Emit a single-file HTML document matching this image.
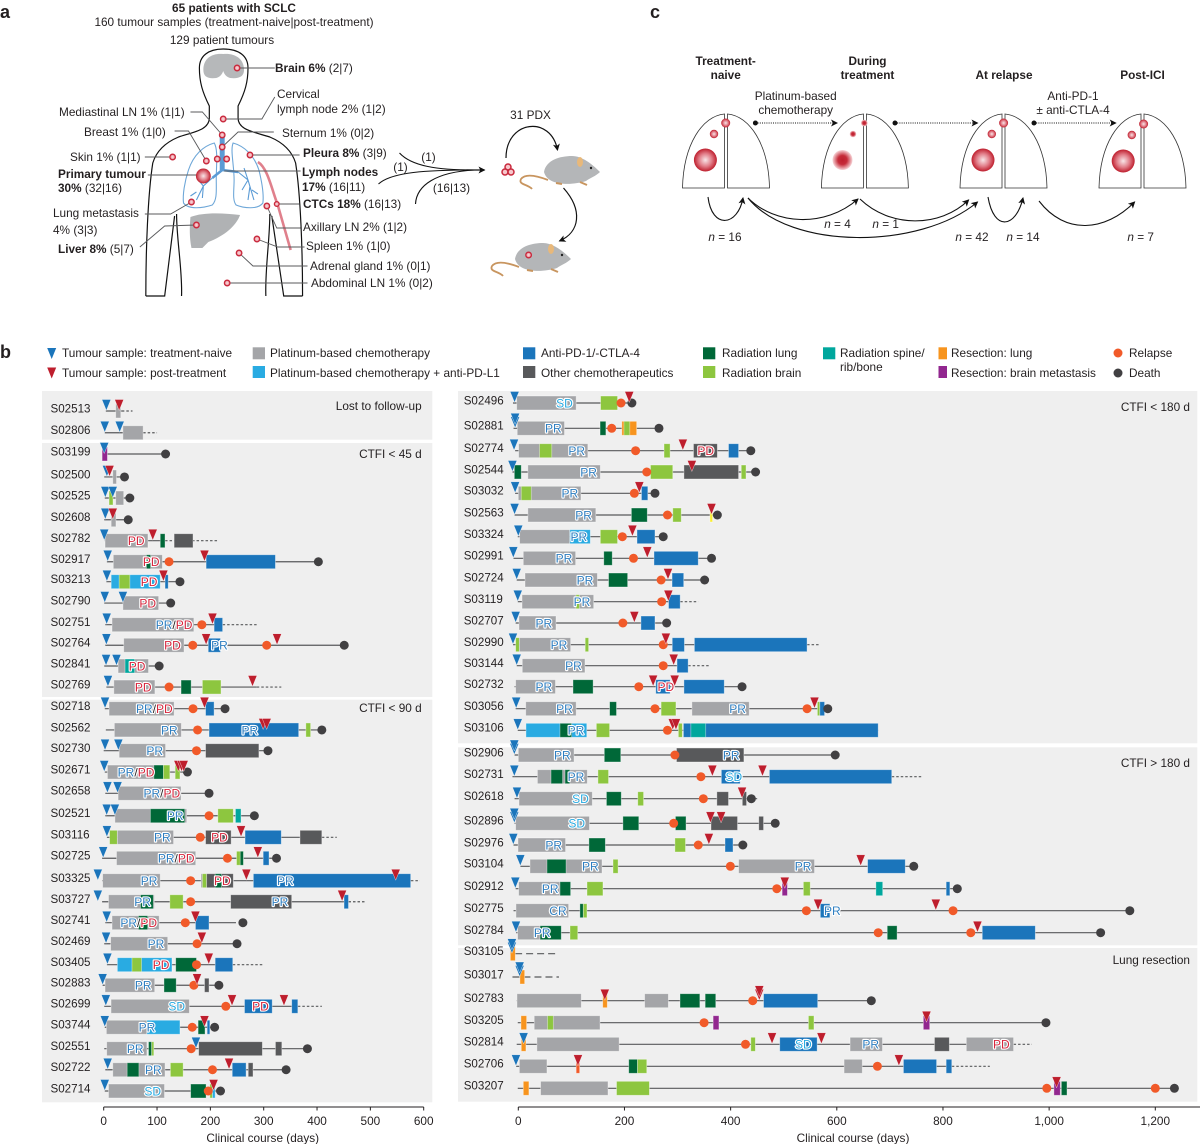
<!DOCTYPE html>
<html lang="en">
<head>
<meta charset="utf-8">
<title>SCLC patient cohort and clinical course</title>
<style>
html,body{margin:0;padding:0;background:#fff;}
body{width:1200px;height:1144px;overflow:hidden;}
svg{display:block;font-family:"Liberation Sans",sans-serif;font-size:11.8px;fill:#231f20;}
.b{font-weight:700;}
.lead{fill:none;stroke:#58595b;stroke-width:.9;}
.node{fill:url(#nodeGrad);stroke:#c8283c;stroke-width:1.3;}
.tag{font-size:18px;font-weight:700;}
.arc{fill:none;stroke:#111;stroke-width:1.1;marker-end:url(#arrow);}
.dot{fill:none;stroke:#111;stroke-width:1.1;stroke-dasharray:1 1.2;marker-end:url(#arrow);}
</style>
</head>
<body>
<svg id="fig" xmlns="http://www.w3.org/2000/svg" width="1200" height="1144" viewBox="0 0 1200 1144">
<defs>
<radialGradient id="nodeGrad"><stop offset="0" stop-color="#fbe3e5"/><stop offset="1" stop-color="#e8808c"/></radialGradient>
<radialGradient id="tumour"><stop offset="0" stop-color="#f8e6e8"/><stop offset=".55" stop-color="#e27f8a"/><stop offset="1" stop-color="#be1e2d"/></radialGradient>
<radialGradient id="shrunk"><stop offset="0" stop-color="#be1e2d"/><stop offset=".45" stop-color="#c62c3a"/><stop offset="1" stop-color="#f7d5d8"/></radialGradient>
<marker id="arrow" markerWidth="8" markerHeight="8" refX="6" refY="3.5" orient="auto" markerUnits="userSpaceOnUse"><path d="M0,0 L7,3.5 L0,7 L1.8,3.5 Z" fill="#111"/></marker>
<g id="lungs">
<path d="M42,0 C20,2 1,30 0,74 H42 Z" fill="#fff" stroke="#333" stroke-width=".8"/>
<path d="M45,0 C67,2 86,30 87,74 H45 Z" fill="#fff" stroke="#333" stroke-width=".8"/>
</g>
</defs>

<!-- PANEL A -->
<g>
<text class="tag" x="0" y="18">a</text>
<text class="b" x="234" y="12" text-anchor="middle">65 patients with SCLC</text>
<text x="234" y="26" text-anchor="middle">160 tumour samples (treatment-naive|post-treatment)</text>
<text x="222" y="44" text-anchor="middle">129 patient tumours</text>

<g transform="scale(.992,1)">
<g fill="none" stroke="#111" stroke-width="1.2">
<path d="M147,296 C147,250 149,195 154,163 C158,150 168,142 180,137 C195,132 211,130 211,118 L211,106 C204,92 201,82 201,68 C201,56 210,49 225,49 C241,49 250,56 250,68 C250,82 247,92 240,106 L240,118 C240,130 256,132 272,137 C284,142 294,150 298,163 C303,195 305,250 305,296"/>
<path d="M147,296 H166 L176,216 M305,296 H286 L274,216 M178,214 C178,240 184,270 183,296 M272,214 C272,240 267,270 268,296"/>
</g>
<path d="M205,70 C205,58 214,53 225,54 C236,53 246,58 246,70 C246,77 240,79 232,78 C228,77 226,74 225,71 C224,74 222,77 218,78 C210,79 205,77 205,70 Z" fill="#b6b8ba"/>
<path d="M192,217 C205,212 225,213 242,215 C238,226 226,236 210,242 L204,248 L193,248 C191,238 191,228 192,217 Z" fill="#b0b2b4"/>
<g fill="none" stroke="#6ea7d8" stroke-width="1.1">
<path d="M216,143 C205,146 195,155 190,170 C186,182 184,195 185,203 C190,210 205,208 214,205 C219,200 218,190 218,180 C218,165 220,150 216,143 Z"/>
<path d="M235,143 C246,146 256,155 261,170 C264,182 266,195 265,203 C260,210 245,208 238,205 C234,200 236,190 236,180 C236,165 232,150 235,143 Z"/>
<path d="M224,133 V170" stroke="#5b9bd5" stroke-width="5"/>
<path d="M224,170 L214,178 M224,170 L240,172" stroke="#5b9bd5" stroke-width="2.5"/>
<path d="M214,178 L205,186 L198,200 M205,186 L200,180 M205,186 L204,198 M198,192 L192,196 M240,172 L250,180 L256,200 M250,180 L246,168 M250,180 L244,190 M254,190 L260,194 M252,186 L250,200" stroke="#5b9bd5"/>
</g>
<path d="M260,162 C270,168 274,190 280,205 L293,250" fill="none" stroke="#e0808c" stroke-width="2.6"/>
<g>
<path class="lead" d="M239,68 H277"/>
<path class="lead" d="M225,119 H264 L277,97"/>
<path class="lead" d="M192,112 H204 L224,135"/>
<path class="lead" d="M176,131 H190 L208,161"/>
<path class="lead" d="M276,132 H240 L224,147"/>
<path class="lead" d="M146,157 H174"/>
<path class="lead" d="M252,155 H302"/>
<path class="lead" d="M149,175 H205"/>
<path class="lead" d="M226,171 H303"/>
<path class="lead" d="M279,204 H302"/>
<path class="lead" d="M146,214 H172 L193,202"/>
<path class="lead" d="M141,247 L166,226 L198,225"/>
<path class="lead" d="M269,206 L279,228 H303"/>
<path class="lead" d="M259,239 L280,247 H307"/>
<path class="lead" d="M241,253 L255,266 H310"/>
<path class="lead" d="M229,283 H310"/>
</g>
<g>
<circle class="node" cx="239" cy="68" r="2.8"/><circle class="node" cx="225" cy="119" r="2.8"/>
<circle class="node" cx="224" cy="135" r="2.8"/><circle class="node" cx="224" cy="147" r="2.8"/>
<circle class="node" cx="208" cy="161" r="2.8"/><circle class="node" cx="219" cy="159" r="2.8"/>
<circle class="node" cx="228.500" cy="159" r="2.8"/><circle class="node" cx="174" cy="157" r="2.8"/>
<circle class="node" cx="252" cy="155" r="2.8"/><circle cx="205" cy="176" r="7.5" fill="url(#tumour)"/>
<circle class="node" cx="193" cy="202" r="2.8"/><circle class="node" cx="198" cy="225" r="2.8"/>
<circle class="node" cx="279" cy="204" r="2.4"/><circle class="node" cx="269" cy="206" r="2.8"/>
<circle class="node" cx="259" cy="239" r="2.8"/><circle class="node" cx="241" cy="253" r="2.8"/>
<circle class="node" cx="229" cy="283" r="2.8"/>
</g>
</g>
<text x="275" y="72"><tspan class="b">Brain 6%</tspan> (2|7)</text>
<text x="277" y="98">Cervical</text>
<text x="277" y="113">lymph node 2% (1|2)</text>
<text x="59" y="116">Mediastinal LN 1% (1|1)</text>
<text x="84" y="136">Breast 1% (1|0)</text>
<text x="282" y="137">Sternum 1% (0|2)</text>
<text x="70" y="161">Skin 1% (1|1)</text>
<text x="303" y="157"><tspan class="b">Pleura 8%</tspan> (3|9)</text>
<text x="58" y="178" class="b">Primary tumour</text>
<text x="58" y="192"><tspan class="b">30%</tspan> (32|16)</text>
<text x="302" y="176" class="b">Lymph nodes</text>
<text x="302" y="191"><tspan class="b">17%</tspan> (16|11)</text>
<text x="303" y="208"><tspan class="b">CTCs 18%</tspan> (16|13)</text>
<text x="53" y="217">Lung metastasis</text>
<text x="53" y="234">4% (3|3)</text>
<text x="303" y="231">Axillary LN 2% (1|2)</text>
<text x="58" y="253"><tspan class="b">Liver 8%</tspan> (5|7)</text>
<text x="306" y="250">Spleen 1% (1|0)</text>
<text x="310" y="270">Adrenal gland 1% (0|1)</text>
<text x="311" y="287">Abdominal LN 1% (0|2)</text>

<g transform="translate(-3.5,0)">
<path d="M403,153 C415,166 440,170 478,170" fill="none" stroke="#111" stroke-width="1.1"/>
<path d="M382,184 C395,172 430,170 478,170" fill="none" stroke="#111" stroke-width="1.1"/>
<path d="M419,204 C420,185 440,172 478,170" fill="none" stroke="#111" stroke-width="1.1"/>
<path d="M470,170 H488" fill="none" stroke="#111" stroke-width="1.3" marker-end="url(#arrow)"/>
<text x="432" y="161" text-anchor="middle">(1)</text>
<text x="404" y="171" text-anchor="middle">(1)</text>
<text x="455" y="192" text-anchor="middle">(16|13)</text>
<text x="534" y="119" text-anchor="middle">31 PDX</text>
</g>
<g>
<circle cx="508" cy="167" r="3" fill="#f7c7cc" stroke="#c8283c" stroke-width="1.5"/>
<circle cx="505" cy="172" r="3" fill="#f7c7cc" stroke="#c8283c" stroke-width="1.5"/>
<circle cx="511" cy="172" r="3" fill="#f7c7cc" stroke="#c8283c" stroke-width="1.5"/>
<path d="M506,158 C506,120 551,115 557.500,150" fill="none" stroke="#111" stroke-width="1.2" marker-end="url(#arrow)"/>
<path d="M563.500,188 C583,210 580,232 559.500,241" fill="none" stroke="#111" stroke-width="1.2" marker-end="url(#arrow)"/>
</g>
<g>
<path d="M548,180 C535,175 525,174 521,179 C518,185 528,184 532,189" fill="none" stroke="#c8955f" stroke-width="1.8"/>
<path d="M544,172 C546,160 560,156 572,156 C582,156 592,164 600,172 C596,176 590,178 586,181 C574,185 548,187 544,172 Z" fill="#b4b6b8"/>
<ellipse cx="580" cy="162" rx="3" ry="5" fill="#e8b87a"/>
<circle cx="591" cy="168" r="1.2" fill="#222"/>
<path d="M556,183 L562,184 M580,182 L587,185" stroke="#c8955f" stroke-width="2"/>
</g>
<g transform="translate(-29,87)">
<path d="M548,180 C535,175 525,174 521,179 C518,185 528,184 532,189" fill="none" stroke="#c8955f" stroke-width="1.8"/>
<path d="M544,172 C546,160 560,156 572,156 C582,156 592,164 600,172 C596,176 590,178 586,181 C574,185 548,187 544,172 Z" fill="#b4b6b8"/>
<ellipse cx="580" cy="162" rx="3" ry="5" fill="#e8b87a"/>
<circle cx="591" cy="168" r="1.2" fill="#222"/>
<path d="M556,183 L562,184 M580,182 L587,185" stroke="#c8955f" stroke-width="2"/>
<circle class="node" cx="557.600" cy="168" r="2.8"/>
</g>
</g>

<!-- PANEL C -->
<g>
<text class="tag" x="650" y="18">c</text>
<text class="b" x="725.700" y="65" text-anchor="middle">Treatment-</text>
<text class="b" x="725.700" y="79" text-anchor="middle">naive</text>
<text class="b" x="867.500" y="65" text-anchor="middle">During</text>
<text class="b" x="867.500" y="79" text-anchor="middle">treatment</text>
<text class="b" x="1004" y="79" text-anchor="middle">At relapse</text>
<text class="b" x="1142.500" y="79" text-anchor="middle">Post-ICI</text>
<text x="795.700" y="100" text-anchor="middle">Platinum-based</text>
<text x="795.700" y="114" text-anchor="middle">chemotherapy</text>
<text x="1073" y="100" text-anchor="middle">Anti-PD-1</text>
<text x="1073" y="114" text-anchor="middle">± anti-CTLA-4</text>
<use href="#lungs" x="682.500" y="114"/>
<use href="#lungs" x="821.400" y="114"/>
<use href="#lungs" x="960" y="114"/>
<use href="#lungs" x="1099" y="114"/>
<g>
<circle cx="705.400" cy="160" r="11.500" fill="url(#tumour)"/><circle cx="714" cy="134" r="4.200" fill="url(#tumour)"/><circle cx="725.700" cy="123" r="4.500" fill="url(#tumour)"/>
<circle cx="842.500" cy="160" r="10" fill="url(#shrunk)"/><circle cx="853" cy="134" r="3.300" fill="url(#shrunk)"/><circle cx="864.300" cy="123" r="3.300" fill="url(#shrunk)"/>
<circle cx="983" cy="160" r="11.500" fill="url(#tumour)"/><circle cx="991.800" cy="134" r="4.200" fill="url(#tumour)"/><circle cx="1003.600" cy="123" r="4.500" fill="url(#tumour)"/>
<circle cx="1123.200" cy="161" r="11.500" fill="url(#tumour)"/><circle cx="1131.800" cy="135" r="4.200" fill="url(#tumour)"/><circle cx="1143.600" cy="124" r="4.500" fill="url(#tumour)"/>
</g>
<g>
<circle cx="755.400" cy="123" r="2.500" fill="#111"/><path class="dot" d="M755.400,123 H837"/>
<circle cx="895" cy="123" r="2.500" fill="#111"/><path class="dot" d="M895,123 H977.500"/>
<circle cx="1034" cy="123" r="2.500" fill="#111"/><path class="dot" d="M1034,123 H1115.700"/>
</g>
<g>
<path class="arc" d="M708,197 C712,230 738,226 743,198"/>
<path class="arc" d="M748,198 C775,225 825,228 858,199"/>
<path class="arc" d="M748,198 C790,250 920,250 977.500,202"/>
<path class="arc" d="M860,199 C890,228 940,228 968.600,200"/>
<path class="arc" d="M988,197 C994,232 1016,228 1023,198"/>
<path class="arc" d="M1039,201 C1065,235 1105,232 1134.600,202"/>
</g>
<g font-style="italic">
<text x="725" y="241" text-anchor="middle"><tspan font-style="italic">n</tspan><tspan font-style="normal"> = 16</tspan></text>
<text x="837.500" y="228" text-anchor="middle"><tspan font-style="italic">n</tspan><tspan font-style="normal"> = 4</tspan></text>
<text x="885.700" y="228" text-anchor="middle"><tspan font-style="italic">n</tspan><tspan font-style="normal"> = 1</tspan></text>
<text x="972" y="241" text-anchor="middle"><tspan font-style="italic">n</tspan><tspan font-style="normal"> = 42</tspan></text>
<text x="1023" y="241" text-anchor="middle"><tspan font-style="italic">n</tspan><tspan font-style="normal"> = 14</tspan></text>
<text x="1140.700" y="241" text-anchor="middle"><tspan font-style="italic">n</tspan><tspan font-style="normal"> = 7</tspan></text>
</g>
</g>

<!-- PANEL B LEGEND -->
<g>
<text class="tag" x="0" y="358">b</text>
<path d="M47.200,348 h9 l-4.500,11 z" fill="#1b75bb"/>
<text x="62" y="357">Tumour sample: treatment-naive</text>
<path d="M47.200,367.500 h9 l-4.500,11 z" fill="#be1e2d"/>
<text x="62" y="377">Tumour sample: post-treatment</text>
<rect x="252.700" y="347.300" width="12.300" height="12" fill="#a4a5a8"/>
<text x="270" y="357">Platinum-based chemotherapy</text>
<rect x="252.700" y="366" width="12.300" height="12" fill="#29abe2"/>
<text x="270" y="377">Platinum-based chemotherapy + anti-PD-L1</text>
<rect x="523" y="347.300" width="12.300" height="12" fill="#1b75bb"/>
<text x="541" y="357">Anti-PD-1/-CTLA-4</text>
<rect x="523" y="366" width="12.300" height="12" fill="#58595b"/>
<text x="541" y="377">Other chemotherapeutics</text>
<rect x="703" y="347.300" width="12.300" height="12" fill="#006838"/>
<text x="722" y="357">Radiation lung</text>
<rect x="703" y="366" width="12.300" height="12" fill="#8dc63f"/>
<text x="722" y="377">Radiation brain</text>
<rect x="823" y="347.300" width="12.300" height="12" fill="#00a79d"/>
<text x="840" y="357">Radiation spine/</text>
<text x="840" y="371">rib/bone</text>
<rect x="938.500" y="347.300" width="8.500" height="12" fill="#f7941e"/>
<text x="951" y="357">Resection: lung</text>
<rect x="938.500" y="366" width="8.500" height="12" fill="#92278f"/>
<text x="951" y="377">Resection: brain metastasis</text>
<circle cx="1118" cy="353" r="4.500" fill="#f15a29"/>
<text x="1129" y="357">Relapse</text>
<circle cx="1118" cy="373" r="4.500" fill="#414042"/>
<text x="1129" y="377">Death</text>
</g>
<g id="chart"></g>
</svg>

<script>
// ---------- DATA: left chart (values in days) ----------
const leftPatients = ['S02513','S02806','S03199','S02500','S02525','S02608','S02782','S02917','S03213','S02790','S02751','S02764','S02841','S02769','S02718','S02562','S02730','S02671','S02658','S02521','S03116','S02725','S03325','S03727','S02741','S02469','S03405','S02883','S02699','S03744','S02551','S02722','S02714'];
const leftLines = [[4,34,54],[2,74,100],[1,116],[1,39],[2,49],[1,46],[2,115,215],[6,402],[5,143],[1,126],[3,223,288],[3,451],[1,104],[5,287,333],[2,228],[4,409],[0,308],[2,157],[3,197],[3,282],[6,409,437],[-3,324],[-3,576,593],[-3,459,492],[3,248],[1,250],[6,242,299],[-2,216],[1,364,409],[2,208],[1,382],[3,342],[2,219]];
const leftBars = [
[['P',22.5,32]],[['P',36,74]],[['M',-3,7]],[['P',17,24]],[['B',10,17.5],['P',22.5,37.5]],[['P',14,23]],
[['P',2.5,83],['L',106,115],['O',132,167.5]],
[['P',18,110],['L',80,88],['A',192,322]],
[['C',14,106],['B',29,49],['A',115,121]],
[['P',36,103]],
[['P',15.6,169],['A',207,223]],
[['P',37.5,150.6],['A',196,219]],
[['P',27,84],['S',40,58]],
[['P',19,96],['L',145,164],['B',185,220]],
[['P',10,132],['A',191,207]],
[['P',20,145.6],['A',197.5,365.6],['B',379,388]],
[['P',29,116],['O',191,291]],
[['P',7,112],['L',94,112],['B',112,124],['B',134,143]],
[['P',27,145]],
[['P',21,155.6],['L',87.5,152],['B',214,243],['S',247,257.5]],
[['B',11,25.6],['P',25.6,131],['O',191,239],['A',265,333],['O',368,409]],
[['P',24,172.5],['B',249,262],['L',256,262],['A',299,310]],
[['P',-2,106],['P',182.5,243],['B',185,193],['O',193,243],['L',209,221],['A',280.6,575.6]],
[['P',9,95],['L',69,93],['B',124,149],['O',238,352.5],['A',450.6,459]],
[['P',15.6,104],['L',65,82.5],['A',172,197.5]],
[['P',13,120]],
[['C',25.6,128],['B',53,71],['L',135,174],['A',209,242]],
[['P',2.5,95.6],['L',113,136],['O',189,197.5]],
[['P',13.75,160.6],['A',264,316],['A',352.5,364]],
[['P',5,81],['C',81,143],['L',177,190],['A',194,199]],
[['P',5.6,81],['L',84,90],['B',90,94],['O',178,297.5],['O',322,334]],
[['P',17,115],['L',44,66],['B',125,149],['A',241,267],['O',271,280]],
[['P',9,114],['L',163,192],['B',199,204],['C',204,209]]
];
const leftResponses = [[],[],[],[],[],[],[['PD',61]],[['PD',89]],[['PD',85]],[['PD',82.5]],[['PR/PD',132]],[['PD',129],['PR',217]],[['PD',62.5]],[['PD',74]],[['PR/PD',95]],[['PR',123],['PR',274]],[['PR',95.6]],[['PR/PD',60.6]],[['PR/PD',109]],[['PR',134]],[['PR',110],['PD',217]],[['PR/PD',136]],[['PR',85],['PD',222.5],['PR',340.6]],[['PR',73],['PR',330.6]],[['PR/PD',65.6]],[['PR',98]],[['PD',107.5]],[['PR',74]],[['SD',137],['PD',294]],[['PR',81]],[['PR',59]],[['PR',93]],[['SD',92]]];
const leftNaive = [[5],[2,30],[1],[6],[3,17],[3],[1],[7.5],[6],[2,36],[5.6],[5],[4.4,24],[8],[2.5],[],[2.5,27.5],[1],[7,26],[5.6,21],[6],[-1],[-11],[-11],[5.6],[4.4],[7],[-2],[4],[2],[173],[7.5],[2]];
const leftPost = [[29],[],[],[11],[],[17],[92],[189],[112],[],[204],[192,325],[],[279],[189],[299,305.6],[],[140,146,150],[],[],[257.5],[289],[267.5,547.5],[447],[172],[184],[197],[175],[240.6,338],[189],[],[235],[206]];
const leftRelapse = [[],[],[],[],[],[],[],[122.5],[],[],[184],[167,305.6],[],[122.5],[167.5],[176],[174],[],[],[197.5],[181],[232],[163],[163],[153],[175],[174],[169],[229],[166],[164],[204],[196]];
const leftDeath = [null,null,116,39,49,46,null,402.5,143,125.6,null,451,104,null,227.5,409,308,157,197.5,282.5,null,324,null,null,261,250,null,216,null,208,382,342,219];

// ---------- DATA: right chart (values in days) ----------
const rightPatients = ['S02496','S02881','S02774','S02544','S03032','S02563','S03324','S02991','S02724','S03119','S02707','S02990','S03144','S02732','S03056','S03106','S02906','S02731','S02618','S02896','S02976','S03104','S02912','S02775','S02784','S03105','S03017','S02783','S03205','S02814','S02706','S03207'];
const rightLines = [[-10,214],[-9,265],[-6,438],[-11,447],[-6,257.5],[-7,375],[-1,273],[-9,364],[-3,351],[-1,305,339],[-5,279.5],[-10,544,568],[-3,320,360],[-7,421.5],[-5,583],[-1,678],[-7,597],[-11,703.5,759],[-7,450],[-7,484],[-9,423],[4,745],[-5,827],[-9,1152],[-4,1097],[-15,-6,76.6],[-11,-11,76.6],[-3,665],[-1,994],[-3,933,967.4],[-4,816.6,888.3],[-1,1236]];
const rightBars = [
[['P',-3,109],['B',155,187]],
[['P',-2,87],['L',154,165],['R',195,223],['B',199,210]],
[['P',0.6,131],['B',40,63],['B',274.5,286],['O',330,375],['A',396,415]],
[['L',-7.5,5.6],['P',18,154.5],['B',249,291],['O',312,415],['B',420,429]],
[['P',0,118],['B',5.6,24.5],['A',232,244]],
[['P',18,146],['L',213,243],['B',291,307],['Y',361,366]],
[['P',2.5,97],['C',97,135.7],['B',154.5,187],['A',223.6,257.5]],
[['P',9.4,108],['L',161,177],['A',255.6,339]],
[['P',12.6,149],['L',170,206],['A',289.6,311.6]],
[['P',7,142],['B',108.7,115],['A',283,305]],
[['P',1.3,71],['A',231,257.5]],
[['B',-5,2],['P',2,98.6],['B',126,132.5],['A',290,313],['A',331.7,544]],
[['P',7.5,125.6],['A',299,320]],
[['P',-5,70],['L',103,141],['A',259,286],['A',312,388]],
[['P',14,109],['L',172,185],['B',269,297],['P',327,435],['B',563.4,568],['A',568,577]],
[['C',14.4,129],['L',78.5,100.5],['B',147,172],['B',301.5,309],['A',311,678],['S',325,353]],
[['P',0,105],['L',162,193],['O',298,425]],
[['P',36,130],['L',61.6,83.5],['L',88,97],['B',150,170],['A',382.5,418],['A',473,703.5]],
[['P',1.3,139.4],['L',166,194],['B',225,236],['O',374,396],['O',422,430]],
[['P',-5,134],['L',197,227],['L',296,316],['O',363,413],['O',453,462]],
[['P',-0.6,89],['L',133,164],['B',295,315],['A',389.4,404.5]],
[['P',22,157.7],['L',54,90],['B',178.4,188],['P',415,558],['A',658,729]],
[['P',0.6,78.5],['L',78.5,98.6],['B',129.4,159.5],['M',497,507],['B',537,550],['S',673.6,686.5],['A',806,813]],
[['P',-4.4,94.8],['L',116,122.5],['B',122.5,129.4],['A',569,587]],
[['P',-1.3,41],['L',41,81],['B',97.4,112],['L',695,713.6],['A',874,974]],
[['R',-15,-5.6]],
[['R',3,12]],
[['P',-2.5,118.7],['R',159,167.7],['P',238,282.7],['L',304.6,342],['L',352,372],['A',462,564]],
[['R',5,15.7],['P',30,154],['B',55,66],['M',367,378],['B',546.5,557],['M',763,775]],
[['R',5.6,14.4],['P',35,190],['B',438,446.6],['A',492.5,563],['P',625,686],['O',784,812],['P',844,933]],
[['P',2,54],['X',109,115.6],['L',208,224.5],['B',224.5,242],['P',613.7,648],['A',725.5,788],['A',806,816.6]],
[['R',9.4,20],['P',42,169],['B',185,247],['M',1009,1021],['L',1023,1033.7]]
];
const rightResponses = [[['SD',87]],[['PR',66]],[['PR',110],['PD',353]],[['PR',132.5]],[['PR',97]],[['PR',123]],[['PR',114]],[['PR',86]],[['PR',125.6]],[['PR',120]],[['PR',48]],[['PR',76.6]],[['PR',104]],[['PR',48],['PD',278]],[['PR',87],['PR',413]],[['PR',108.7]],[['PR',83],['PR',401]],[['PR',108.7],['SD',406]],[['SD',117]],[['SD',110]],[['PR',66.6]],[['PR',135.7],['PR',536.4]],[['PR',60]],[['CR',74.7],['PR',591.7]],[['PR',45]],[],[],[],[],[['SD',537],['PR',664],['PD',910]],[],[]];
const rightNaive = [[-7],[-6,-6],[-8],[-11],[-6],[-7],[0],[-9.4],[-3],[-1],[-5],[-10],[-3],[],[-4],[-1],[-7.5,-7.5],[-7.5],[-2.5],[-7.5,-7.5],[-9.4],[3.8],[-5.6],[],[-4.4],[-12,-12],[2.5,2.5],[],[],[10],[-4.4],[]];
const rightPost = [[209],[],[310],[327],[228],[364],[215],[243],[282],[282.7],[218.6],[278],[292.7],[254,294.6],[558],[291,297],[],[365.6,460],[421.5],[362,382],[359],[645],[502],[564.7,786.5],[865],[],[],[163,454,454],[769],[478,571],[112.4,717],[1014]];
const rightRelapse = [[193.5],[176],[221],[242],[218.6],[281],[196],[217],[269],[270],[197],[273],[273],[227],[257.5,544],[281],[295],[344],[348.6],[292.7],[339],[399.5],[487],[542.7,819],[678,852.4],[],[],[441.6],[350],[428],[676.5],[995.6,1200]];
const rightDeath = [214,265,438,447,257.5,375,273,364,351,null,279.5,null,null,421.5,583,null,597,null,439,484,423,745,827,1152,1097,null,null,665,994,null,null,1236];

// ---------- AXIS DATA ----------
const leftTicks = [0,100,200,300,400,500,600];
const rightTicks = [0,200,400,600,800,1000,1200];
const rightTickLabels = ['0','200','400','600','800','1,000','1,200'];

// ---------- LAYOUT (not data) ----------
const leftRowNudges = [0,.5,.5,2.2,2,2.5,2.2,2,.7,.8,1.2,.5,0,-.2,.2,.2,-.3,-.2,-.2,1,1.3,1,2.2,2,1.7,1.5,1.2,.5,.3,0,.2,0,0];
const rightRowNudges = [0,3.2,3.5,2.7,1.9,1.5,1.1,.6,.2,-.2,-1,-1.4,-2.5,-3.6,-3.7,-4.2,-1.6,-2,-2.1,.4,0,-.8,-.5,-.6,-.7,-1.8,-.6,1,.9,.4,.3,.2];
const leftLongDashRows = [];
const rightLongDashRows = [25,26];
const barColours = {P:'#a4a5a8',C:'#29abe2',A:'#1b75bb',O:'#58595b',L:'#006838',B:'#8dc63f',S:'#00a79d',R:'#f7941e',M:'#92278f',Y:'#f9ed32',X:'#f15a29'};
const barNames = {P:'platinum-bar',C:'platinum-l1-bar',A:'anti-pd1-bar',O:'other-chemo-bar',L:'radiation-lung-bar',B:'radiation-brain-bar',S:'radiation-spine-bar',R:'resection-lung-bar',M:'resection-brain-bar',Y:'yellow-treatment-bar',X:'resection-bar'};
const responseColours = {PR:'#2f7fc1',PD:'#d7263d',SD:'#29abe2',CR:'#2f7fc1'};

// ---------- AXIS FUNCTIONS ----------
const leftX = d => 103.7 + d * 320 / 600;
const rightX = d => 518.3 + d * 637 / 1200;
const leftY = i => 411 + 21.25 * i + leftRowNudges[i];
const rightY = i => 403 + 22.1 * i + rightRowNudges[i];

const NS = 'http://www.w3.org/2000/svg';
const root = document.getElementById('chart');
function make(tag, parent, attrs) {
  const el = document.createElementNS(NS, tag);
  for (const k in attrs) el.setAttribute(k, attrs[k]);
  parent.appendChild(el);
  return el;
}

function drawPanelBackground(x, y, w, h) {
  const el = make('rect', root, {x: x, y: y, width: w, height: h, fill: '#efefef'});
  
  
}
function drawPanelTitle(x, y, s) {
  const el = make('text', root, {x: x, y: y + 4, 'text-anchor': 'end'});
  el.textContent = s;
  
  
}
function drawLine(g, x1, x2, y, dashPattern) {
  if (x2 <= x1) return;
  const el = make('line', g, {x1: x1, x2: x2, y1: y, y2: y, stroke: '#58595b', 'stroke-width': 1.2});
  if (dashPattern) el.setAttribute('stroke-dasharray', dashPattern);
  
  
}
function drawBar(g, code, x1, x2, y) {
  const el = make('rect', g, {x: x1, y: y - 7, width: x2 - x1, height: 14, fill: barColours[code], stroke: 'rgba(255,255,255,.45)', 'stroke-width': .8});
  
  
}
function drawResponse(g, label, x, y) {
  const el = make('text', g, {x: x, y: y + 4.3, 'text-anchor': 'middle', 'font-size': 12, 'paint-order': 'stroke', stroke: '#fff', 'stroke-width': 2.2, 'stroke-linejoin': 'round'});
  
  
  label.split('/').forEach((part, i) => {
    if (i) {
      const slash = make('tspan', el, {fill: '#231f20'});
      slash.textContent = '/';
    }
    const span = make('tspan', el, {fill: responseColours[part]});
    span.textContent = part;
  });
}
function drawDot(g, x, y, colour, name) {
  const el = make('circle', g, {cx: x, cy: y, r: 4.5, fill: colour});
  
  
}
function drawTriangle(g, x, y, colour, name) {
  const el = make('path', g, {d: 'M' + (x - 4.5) + ',' + (y - 11.5) + ' h9 l-4.5,11 z', fill: colour, stroke: '#fff', 'stroke-width': .35});
  
  
}
// Samples taken on the same day stack upward so both markers remain visible.
function stackLift(days, j) {
  return (j > 0 && days[j] === days[j - 1]) ? 3.5 : 0;
}
function drawRows(labelX, patients, xf, yf, lines, bars, responses, naive, post, relapse, death, longDashRows) {
  patients.forEach((id, i) => {
    const y = yf(i);
    const g = make('g', root, {});
    
    
    const name = make('text', g, {x: labelX, y: y + 1.3, 'font-size': 11.6});
    name.textContent = id;
    
    
    const span = lines[i];
    drawLine(g, xf(span[0]), xf(span[1]), y, null);
    if (span.length > 2) drawLine(g, xf(span[1]), xf(span[2]), y, longDashRows.includes(i) ? '7 4' : '2.5 2');
    bars[i].forEach(b => drawBar(g, b[0], xf(b[1]), xf(b[2]), y));
    relapse[i].forEach(d => drawDot(g, xf(d), y, '#f15a29', 'relapse-dot'));
    if (death[i] !== null) drawDot(g, xf(death[i]), y, '#414042', 'death-dot');
    responses[i].forEach(r => drawResponse(g, r[0], xf(r[1]), y));
    naive[i].forEach((d, j) => drawTriangle(g, xf(d), y - stackLift(naive[i], j), '#1b75bb', 'naive-sample-marker'));
    post[i].forEach((d, j) => drawTriangle(g, xf(d), y - stackLift(post[i], j), '#be1e2d', 'post-treatment-sample-marker'));
  });
}
function drawAxis(xf, ticks, labels, x2, titleX) {
  const g = make('g', root, {});
  
  
  const axis = make('line', g, {x1: xf(ticks[0]), x2: x2, y1: 1107, y2: 1107, stroke: '#231f20', 'stroke-width': 1.1});
  
  
  ticks.forEach((t, i) => {
    const tick = make('line', g, {x1: xf(t), x2: xf(t), y1: 1107, y2: 1110.5, stroke: '#231f20', 'stroke-width': 1});
    
    
    const txt = make('text', g, {x: xf(t), y: 1125, 'text-anchor': 'middle'});
    txt.textContent = labels[i];
    
    
  });
  const title = make('text', g, {x: titleX, y: 1142, 'text-anchor': 'middle'});
  title.textContent = 'Clinical course (days)';
  
  
}

// ---------- RENDER ----------
drawPanelBackground(42, 391, 390.3, 48.7);
drawPanelBackground(42, 443, 390.3, 254);
drawPanelBackground(42, 699.7, 390.3, 402.6);
drawPanelBackground(458, 391, 739.3, 352.3);
drawPanelBackground(458, 747.3, 739.3, 198);
drawPanelBackground(458, 948, 739.3, 153.7);
drawPanelTitle(421.7, 406, 'Lost to follow-up');
drawPanelTitle(421.7, 454, 'CTFI < 45 d');
drawPanelTitle(421.7, 708, 'CTFI < 90 d');
drawPanelTitle(1190, 407, 'CTFI < 180 d');
drawPanelTitle(1190, 763, 'CTFI > 180 d');
drawPanelTitle(1190, 960, 'Lung resection');
drawRows(50.5, leftPatients, leftX, leftY, leftLines, leftBars, leftResponses, leftNaive, leftPost, leftRelapse, leftDeath, leftLongDashRows);
drawRows(463.7, rightPatients, rightX, rightY, rightLines, rightBars, rightResponses, rightNaive, rightPost, rightRelapse, rightDeath, rightLongDashRows);
drawAxis(leftX, leftTicks, leftTicks.map(String), leftX(600), 262.7);
drawAxis(rightX, rightTicks, rightTickLabels, 1200, 853);
</script>
</body>
</html>
